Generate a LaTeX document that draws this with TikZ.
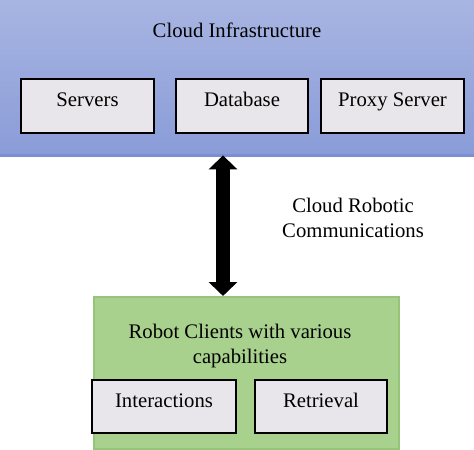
\documentclass[tikz,border=0pt]{standalone}
\usepackage{fontspec}
\setmainfont{Liberation Serif}
\usepackage{tikz}
\usetikzlibrary{arrows.meta, positioning}
\definecolor{cloudtop}{RGB}{168,181,226}
\definecolor{cloudbot}{RGB}{138,156,216}
\definecolor{cloudline}{RGB}{124,143,210}
\definecolor{robotfill}{RGB}{169,209,142}
\definecolor{robotline}{RGB}{150,196,120}
\definecolor{boxfill}{RGB}{232,230,234}

\begin{document}
\begin{tikzpicture}[
        x=1bp, y=-1bp,
        font=\fontsize{20.8}{25}\selectfont,
        band/.style = {
            rectangle,
            inner sep=0pt,
            anchor=north west
        },
        part/.style = {
            rectangle,
            draw=black,
            line width=2bp,
            fill=boxfill,
            minimum height=54bp,
            text height=14bp,
            text depth=12bp,
            inner sep=0pt
        },
        link/.style = {
            {Triangle[width=28bp,length=14bp]}-{Triangle[width=28bp,length=14bp]},
            line width=14bp
        }
    ]
        \useasboundingbox (0,0) rectangle (474,450);

        % cloud side
        \node [band, top color=cloudtop, bottom color=cloudbot,
               minimum width=474bp, minimum height=155bp]   (cloud)     at (0,0)        {};
        \draw [cloudline, line width=2.5bp] (cloud.south west) -- (cloud.south east);
        \node                                                (cloudname) at (237,30)     {Cloud Infrastructure};
        \node [part, minimum width=133bp]                    (servers)   at (87.5,106)   {Servers};
        \node [part, minimum width=132bp]                    (database)  at (242,106)    {Database};
        \node [part, minimum width=143bp]                    (proxy)     at (392.5,106)  {Proxy Server};

        % robot side
        \node [band, fill=robotfill, draw=robotline, line width=1.5bp,
               minimum width=305bp, minimum height=152bp]    (robot)     at (93,296)     {};
        \node [align=center]                                 (robotname) at (240,346)    {Robot Clients with various\\capabilities};
        \node [part, minimum width=144bp, minimum height=53bp] (interact) at (164,406.5) {Interactions};
        \node [part, minimum width=132bp, minimum height=53bp] (retrieve) at (321,406.5) {Retrieval};

        % link between them
        \coordinate (linkx) at (223,0);
        \node [align=center]                                 (commlabel) at (353,218)    {Cloud Robotic\\Communications};
        \draw [link] (cloud.south -| linkx) -- (robot.north -| linkx);
    \end{tikzpicture}
\end{document}
